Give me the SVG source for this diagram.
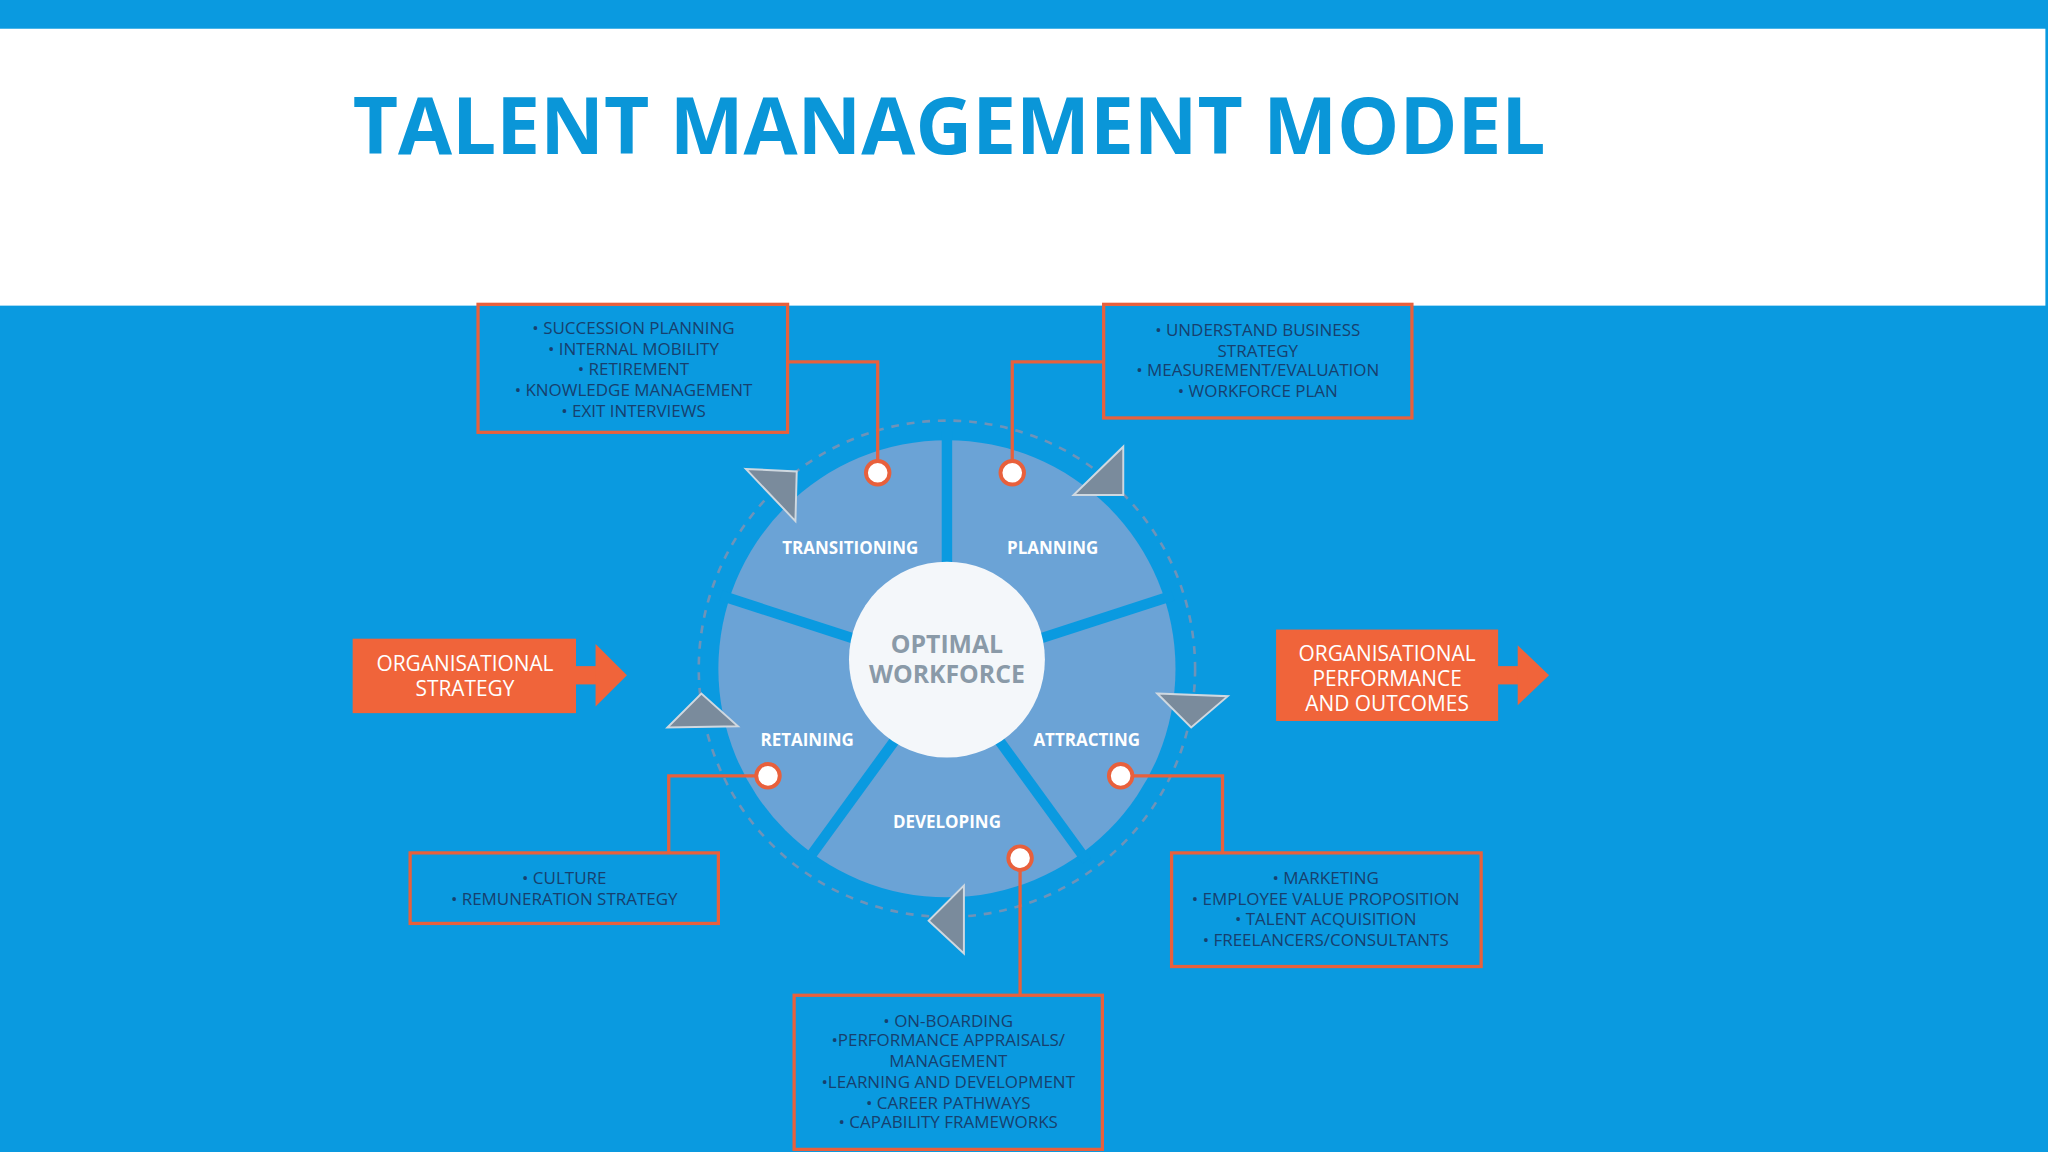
<svg xmlns="http://www.w3.org/2000/svg" width="2048" height="1152" viewBox="0 0 2048 1152">
<style>
.box{fill:none;stroke:#e8603c;stroke-width:2.5}
.bt{font-family:"Open Sans","Liberation Sans",sans-serif;font-size:13px;fill:#17406e;text-anchor:middle}
.seg{font-family:"Open Sans","Liberation Sans",sans-serif;font-size:13px;font-weight:bold;fill:#fff;text-anchor:middle}
.ot{font-family:"Open Sans","Liberation Sans",sans-serif;font-size:16px;fill:#fff;text-anchor:middle}
.con{fill:none;stroke:#e8603c;stroke-width:2.5}
.dot{fill:#fff;stroke:#e8603c;stroke-width:3}
.tri{fill:#7a8b9c;stroke:#cfd8e0;stroke-width:1.5}
</style>
<g transform="scale(1.30612)">
<rect x="0" y="0" width="1568" height="882" fill="#0a9ae0"/>
<rect x="0" y="22" width="1566" height="212" fill="#fff"/>
<text x="270" y="118" font-family="'Open Sans','Liberation Sans',sans-serif" font-size="60" font-weight="bold" fill="#0a96d8">TALENT MANAGEMENT MODEL</text>
<g id="wheel">
<circle cx="725" cy="512" r="190" fill="none" stroke="#6f93b8" stroke-width="2" stroke-dasharray="6,6"/>
<circle cx="725" cy="512" r="175" fill="#6ba3d6"/>
<g stroke="#0a9ae0" stroke-width="8">
<line x1="725" y1="512" x2="725" y2="330"/>
<line x1="725" y1="512" x2="898" y2="456"/>
<line x1="725" y1="512" x2="552" y2="456"/>
<line x1="725" y1="512" x2="832" y2="659"/>
<line x1="725" y1="512" x2="618" y2="659"/>
</g>
<circle cx="725" cy="505" r="75" fill="#f4f7fa"/>
<text x="725" y="500" font-family="'Open Sans','Liberation Sans',sans-serif" font-size="19" font-weight="bold" fill="#8a9aa8" text-anchor="middle">OPTIMAL</text>
<text x="725" y="523" font-family="'Open Sans','Liberation Sans',sans-serif" font-size="19" font-weight="bold" fill="#8a9aa8" text-anchor="middle">WORKFORCE</text>
<text class="seg" x="651" y="424">TRANSITIONING</text>
<text class="seg" x="806" y="424">PLANNING</text>
<text class="seg" x="832" y="571">ATTRACTING</text>
<text class="seg" x="725" y="634">DEVELOPING</text>
<text class="seg" x="618" y="571">RETAINING</text>
<polygon class="tri" points="571,359 610,361 609,399"/>
<polygon class="tri" points="822,379 860,342 860,379"/>
<polygon class="tri" points="886,531 940,533 912,557"/>
<polygon class="tri" points="738,678 738,730 711,705"/>
<polygon class="tri" points="511,557 537,531 565,556"/>
</g>
<g id="connectors">
<polyline class="con" points="672,353 672,277 603,277"/>
<polyline class="con" points="775,353 775,277 845,277"/>
<polyline class="con" points="579,594 512,594 512,653"/>
<polyline class="con" points="867,594 936,594 936,653"/>
<polyline class="con" points="781,666 781,762"/>
<circle class="dot" cx="672" cy="362" r="9"/>
<circle class="dot" cx="775" cy="362" r="9"/>
<circle class="dot" cx="588" cy="594" r="9"/>
<circle class="dot" cx="858" cy="594" r="9"/>
<circle class="dot" cx="781" cy="657" r="9"/>
</g>
<g id="transitioning-box">
<rect class="box" x="366" y="233" width="237" height="98"/>
<text class="bt" x="485" y="256">• SUCCESSION PLANNING</text>
<text class="bt" x="485" y="272">• INTERNAL MOBILITY</text>
<text class="bt" x="485" y="287">• RETIREMENT</text>
<text class="bt" x="485" y="303">• KNOWLEDGE MANAGEMENT</text>
<text class="bt" x="485" y="319">• EXIT INTERVIEWS</text>
</g>
<g id="planning-box">
<rect class="box" x="845" y="233" width="236" height="87"/>
<text class="bt" x="963" y="257">• UNDERSTAND BUSINESS</text>
<text class="bt" x="963" y="273">STRATEGY</text>
<text class="bt" x="963" y="288">• MEASUREMENT/EVALUATION</text>
<text class="bt" x="963" y="304">• WORKFORCE PLAN</text>
</g>
<g id="retaining-box">
<rect class="box" x="314" y="653" width="236" height="54"/>
<text class="bt" x="432" y="677">• CULTURE</text>
<text class="bt" x="432" y="693">• REMUNERATION STRATEGY</text>
</g>
<g id="attracting-box">
<rect class="box" x="897" y="653" width="237" height="87"/>
<text class="bt" x="1015" y="677">• MARKETING</text>
<text class="bt" x="1015" y="693">• EMPLOYEE VALUE PROPOSITION</text>
<text class="bt" x="1015" y="708">• TALENT ACQUISITION</text>
<text class="bt" x="1015" y="724">• FREELANCERS/CONSULTANTS</text>
</g>
<g id="developing-box">
<rect class="box" x="608" y="762" width="236" height="118"/>
<text class="bt" x="726" y="786">• ON-BOARDING</text>
<text class="bt" x="726" y="801">•PERFORMANCE APPRAISALS/</text>
<text class="bt" x="726" y="817">MANAGEMENT</text>
<text class="bt" x="726" y="833">•LEARNING AND DEVELOPMENT</text>
<text class="bt" x="726" y="849">• CAREER PATHWAYS</text>
<text class="bt" x="726" y="864">• CAPABILITY FRAMEWORKS</text>
</g>
<g id="strategy">
<rect x="270" y="489" width="171" height="57" fill="#f0643a"/>
<rect x="440" y="510" width="18" height="14" fill="#f0643a"/>
<polygon points="456,493 480,517 456,541" fill="#f0643a"/>
<text class="ot" x="356" y="514">ORGANISATIONAL</text>
<text class="ot" x="356" y="533">STRATEGY</text>
</g>
<g id="performance">
<rect x="977" y="482" width="170" height="70" fill="#f0643a"/>
<rect x="1146" y="510" width="18" height="14" fill="#f0643a"/>
<polygon points="1162,494 1186,517 1162,540" fill="#f0643a"/>
<text class="ot" x="1062" y="506">ORGANISATIONAL</text>
<text class="ot" x="1062" y="525">PERFORMANCE</text>
<text class="ot" x="1062" y="544">AND OUTCOMES</text>
</g>
</g>
</svg>
